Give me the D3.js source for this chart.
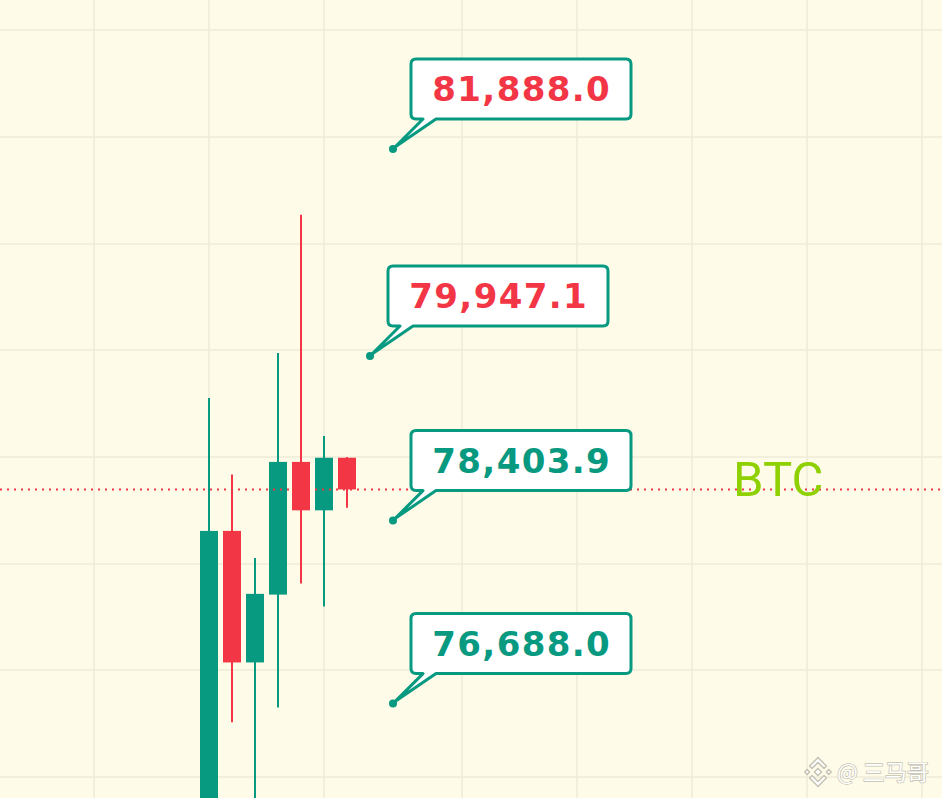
<!DOCTYPE html>
<html>
<head>
<meta charset="utf-8">
<script src="https://cdn.jsdelivr.net/npm/d3@7/dist/d3.min.js"></script>
<style>
  html, body { margin: 0; padding: 0; background: #FEFBE8; overflow: hidden; }
  svg { display: block; }
</style>
</head>
<body>
<svg id="chart" width="942" height="798"></svg>
<script>
// ---- data ----
const candleIndex = [0, 1, 2, 3, 4, 5, 6];
const opens  = [75400, 78307, 77074, 77710, 78954, 78500, 78993];
const highs  = [79554, 78836, 78054, 79976, 81270, 79198, 79000];
const lows   = [75000, 76513, 75500, 76652, 77813, 77599, 78525];
const closes = [78307, 77074, 77717, 78954, 78500, 78993, 78696];

const gridPrices = [76000, 77000, 78000, 79000, 80000, 81000, 82000, 83000];
const gridSlots = [-5, 0, 5, 11, 16, 21, 26, 31];

const calloutLabels = ["81,888.0", "79,947.1", "78,403.9", "76,688.0"];
const calloutPrices = [81888.0, 79947.1, 78403.9, 76688.0];
const calloutSlots  = [8, 7, 8, 8];
const calloutTones  = ["down", "down", "up", "up"];

const symbolLabel = "BTC";
const watermarkText = "@ 三马哥";

// ---- styles ----
const UP = "#089981", DOWN = "#F23645";
const W = 942, H = 798;

const svg = d3.select("#chart");
svg.append("rect").attr("width", W).attr("height", H).attr("fill", "#FEFBE8");

const x = d3.scaleLinear().domain([0, 1]).range([209, 232]);
const y = d3.scaleLinear().domain([76000, 82000]).range([777, 137]);

// grid
const g = svg.append("g");
g.selectAll("line.h").data(gridPrices).join("line")
  .attr("x1", 0).attr("x2", W)
  .attr("y1", d => Math.round(y(d))).attr("y2", d => Math.round(y(d)))
  .attr("stroke", "#EEEBDA").attr("stroke-width", 1.5);
g.selectAll("line.v").data(gridSlots).join("line")
  .attr("y1", 0).attr("y2", H)
  .attr("x1", d => Math.round(x(d))).attr("x2", d => Math.round(x(d)))
  .attr("stroke", "#EEEBDA").attr("stroke-width", 1.5);

// candles
const candles = candleIndex.map((i, k) => ({ i, o: opens[k], h: highs[k], l: lows[k], c: closes[k] }));
const cg = svg.append("g");
cg.selectAll("line.wick").data(candles).join("line")
  .attr("x1", d => x(d.i)).attr("x2", d => x(d.i))
  .attr("y1", d => y(d.h)).attr("y2", d => y(d.l))
  .attr("stroke", d => d.c >= d.o ? UP : DOWN).attr("stroke-width", 2);
cg.selectAll("rect.body").data(candles).join("rect")
  .attr("x", d => x(d.i) - 9).attr("width", 18)
  .attr("y", d => y(Math.max(d.o, d.c)))
  .attr("height", d => Math.max(1, Math.abs(y(d.o) - y(d.c))))
  .attr("fill", d => d.c >= d.o ? UP : DOWN);

// last price dotted line
const last = closes[closes.length - 1];
svg.append("line")
  .attr("x1", 0).attr("x2", W)
  .attr("y1", y(last)).attr("y2", y(last))
  .attr("stroke", DOWN).attr("stroke-width", 2)
  .attr("stroke-dasharray", "2,5");

// symbol label
svg.append("text")
  .attr("x", 733).attr("y", y(last) + 7)
  .attr("font-family", "Roboto, 'Liberation Sans', sans-serif")
  .attr("font-size", 49)
  .attr("fill", "#8ED000")
  .text(symbolLabel);

// callouts
const callouts = calloutLabels.map((t, k) => ({
  t, p: calloutPrices[k], s: calloutSlots[k], tone: calloutTones[k]
}));
const co = svg.append("g");
callouts.forEach(d => {
  const px = x(d.s), py = y(d.p);
  const bx = px + 18, bb = py - 30, bw = 220, bh = 60, bt = bb - bh, r = 5;
  const path = [
    `M${bx + r},${bt}`,
    `L${bx + bw - r},${bt}`,
    `Q${bx + bw},${bt} ${bx + bw},${bt + r}`,
    `L${bx + bw},${bb - r}`,
    `Q${bx + bw},${bb} ${bx + bw - r},${bb}`,
    `L${bx + 25},${bb}`,
    `L${px + 2},${py - 2}`,
    `L${bx + 12},${bb}`,
    `L${bx + r},${bb}`,
    `Q${bx},${bb} ${bx},${bb - r}`,
    `L${bx},${bt + r}`,
    `Q${bx},${bt} ${bx + r},${bt}`,
    "Z"
  ].join(" ");
  co.append("path").attr("d", path)
    .attr("fill", "#FFFFFF").attr("stroke", UP).attr("stroke-width", 3)
    .attr("stroke-linejoin", "round");
  co.append("circle").attr("cx", px).attr("cy", py).attr("r", 4).attr("fill", UP);
  co.append("text")
    .attr("x", bx + bw / 2 + 0.7).attr("y", bt + bh / 2 + 12)
    .attr("text-anchor", "middle")
    .attr("font-family", "'DejaVu Sans', sans-serif")
    .attr("font-weight", "bold")
    .attr("font-size", 34)
    .attr("letter-spacing", 1.4)
    .attr("fill", d.tone === "up" ? UP : DOWN)
    .text(d.t);
});

// watermark
const wm = svg.append("g").attr("transform", "translate(818,772)");
const logo = wm.append("g").attr("fill", "#FFFFFF").attr("stroke", "#C4C2B2").attr("stroke-width", 1.2)
  .attr("transform", "scale(1.2)");
logo.append("path").attr("d", "M0,-3 L3,0 L0,3 L-3,0 Z");
logo.append("path").attr("d", "M-9,-2 L-7,0 L-9,2 L-11,0 Z");
logo.append("path").attr("d", "M9,-2 L11,0 L9,2 L7,0 Z");
logo.append("path").attr("d", "M0,-12 L7,-5 L5,-3 L0,-8 L-5,-3 L-7,-5 Z");
logo.append("path").attr("d", "M0,12 L7,5 L5,3 L0,8 L-5,3 L-7,5 Z");
wm.append("text")
  .attr("x", 19).attr("y", 8)
  .attr("font-family", "'Noto Sans CJK SC', sans-serif")
  .attr("font-size", 22)
  .attr("fill", "#FFFFFF")
  .attr("stroke", "#C4C2B2").attr("stroke-width", 1.4)
  .attr("paint-order", "stroke")
  .text(watermarkText);
</script>
</body>
</html>
